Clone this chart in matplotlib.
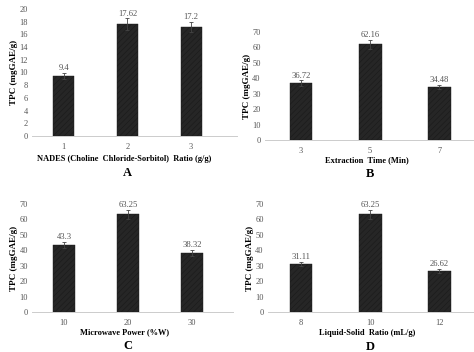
import matplotlib
matplotlib.use('Agg')
import matplotlib.pyplot as plt
import matplotlib.transforms as mtransforms

plt.rcParams['font.family'] = ['Liberation Serif', 'DejaVu Serif']
plt.rcParams['hatch.color'] = '#555555'
plt.rcParams['hatch.linewidth'] = 0.4

# data
cats_a = ['1', '2', '3']
vals_a = [9.4, 17.62, 17.2]
errs_a = [0.5, 0.9, 0.8]
cats_b = ['3', '5', '7']
vals_b = [36.72, 62.16, 34.48]
errs_b = [2.0, 3.0, 1.5]
cats_c = ['10', '20', '30']
vals_c = [43.3, 63.25, 38.32]
errs_c = [2.0, 3.0, 2.0]
cats_d = ['8', '10', '12']
vals_d = [31.11, 63.25, 26.62]
errs_d = [1.5, 3.0, 1.5]

fig = plt.figure(figsize=(4.74, 3.52), dpi=100)

panels = [
    # rect, cats, vals, errs, ymax, ystep, xlim, xlabel, letter, letter offset
    ([0.0675, 0.6136, 0.4325, 0.361], cats_a, vals_a, errs_a, 20, 2, (0.5, 3.72),
     'NADES (Choline  Chloride-Sorbitol)  Ratio (g/g)', 'A', -0.29),
    ([0.559, 0.602, 0.441, 0.307], cats_b, vals_b, errs_b, 70, 10, (0.48, 3.5),
     'Extraction  Time (Min)', 'B', -0.31),
    ([0.0675, 0.1136, 0.424, 0.307], cats_c, vals_c, errs_c, 70, 10, (0.5, 3.64),
     'Microwave Power (%W)', 'C', -0.31),
    ([0.565, 0.1136, 0.435, 0.307], cats_d, vals_d, errs_d, 70, 10, (0.52, 3.5),
     'Liquid-Solid  Ratio (mL/g)', 'D', -0.32),
]

for rect, cats, vals, errs, ymax, ystep, xlim, xlabel, letter, loff in panels:
    ax = fig.add_axes(rect)
    x = list(range(1, len(cats) + 1))
    ax.bar(x, vals, width=0.33, color='#262626', hatch='//////', edgecolor='#1a1a1a',
           linewidth=0.3, zorder=2)
    ax.errorbar(x, vals, yerr=errs, fmt='none', ecolor='#444444', elinewidth=0.6,
                capsize=1.5, capthick=0.6, zorder=3)
    for xi, v, e in zip(x, vals, errs):
        ax.annotate(f'{v:g}', (xi, v + e), xytext=(0, 0.5), textcoords='offset points',
                    ha='center', va='bottom', fontsize=6.2, color='#555555')
    ax.set_xlim(*xlim)
    ax.set_ylim(0, ymax)
    ax.set_yticks(range(0, ymax + 1, ystep))
    ax.set_xticks(x)
    ax.set_xticklabels(cats)
    ax.tick_params(axis='both', labelsize=6, colors='#555555', length=0, pad=3)
    ax.tick_params(axis='x', pad=5)
    for s in ['top', 'right', 'left']:
        ax.spines[s].set_visible(False)
    ax.spines['bottom'].set_color('#cccccc')
    ax.spines['bottom'].set_linewidth(0.7)
    ax.set_ylabel('TPC (mgGAE/g)', fontsize=6.5, fontweight='bold', labelpad=1)
    trans = mtransforms.blended_transform_factory(ax.transData, ax.transAxes)
    xl_off = -0.18 if letter == 'A' else -0.19
    ax.text(1.95, xl_off, xlabel, transform=trans, ha='center', va='center',
            fontsize=6, fontweight='bold')
    ax.text(2, loff, letter, transform=trans, ha='center', va='center',
            fontsize=9, fontweight='bold')

fig.savefig('out.png', dpi=100)
